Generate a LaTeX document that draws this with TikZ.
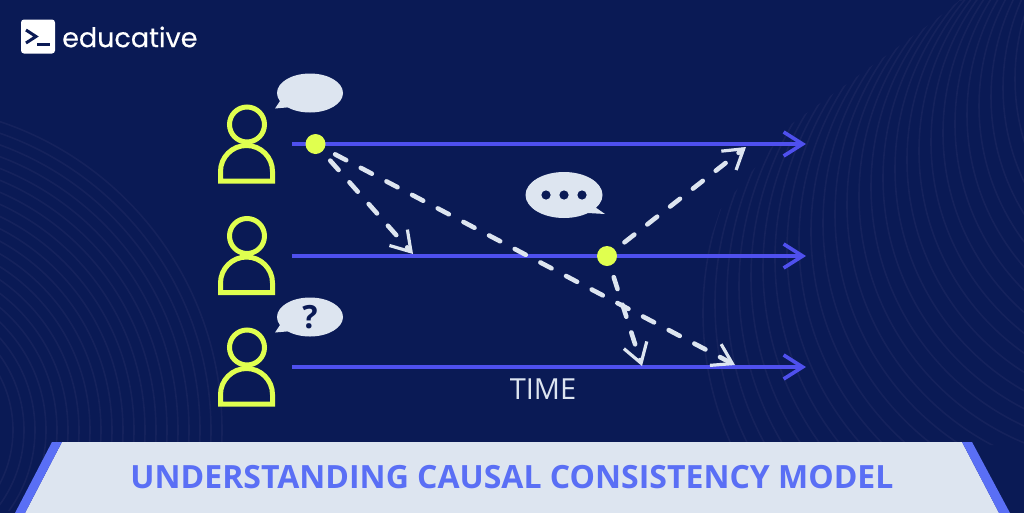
\documentclass[tikz,border=0pt]{standalone}
\usepackage{fontspec}
\setmainfont{Open Sans}
\newfontfamily\logofont[FakeBold=0.4]{Poppins}
\usetikzlibrary{arrows.meta, shapes.geometric}
\definecolor{navy}{HTML}{0A1A55}
\definecolor{ripple}{HTML}{15225C}
\definecolor{lineblue}{HTML}{4F50EE}
\definecolor{edgeblue}{HTML}{5A6FF5}
\definecolor{pale}{HTML}{DDE5F0}
\definecolor{lime}{HTML}{E0FF4F}
\begin{document}
\begin{tikzpicture}[
    x=1pt, y=-1pt,
    timeline/.style={draw=lineblue, line width=4.6pt, -{Straight Barb[length=19pt,width=24pt,line width=3.6pt]}},
    causal/.style={draw=pale, line width=4.6pt, line cap=round, dash pattern=on 12.5pt off 16.5pt, shorten <=12pt, -{Straight Barb[length=19pt,width=24pt,line width=3.2pt]}},
    event/.style={circle, fill=lime, inner sep=0pt, minimum size=20pt},
    bubble/.style={ellipse, fill=pale, inner sep=0pt, minimum width=66pt, minimum height=39pt},
    person/.style={draw=lime, line width=5pt},
  ]
  \useasboundingbox (0,0) rectangle (1024,512);
  % background
  \fill[navy] (-1,-1) rectangle (1025,513);
  \begin{scope}
    \clip (935,20) -- (790,125) -- (720,210) -- (690,300) -- (690,445) -- (1024,445) -- (1024,0) -- (960,0) -- cycle;
    \foreach \i in {0,...,26}
      \draw[ripple, line width=1.6pt] ({1022+8*\i},{313-9*\i}) circle ({319-4*\i});
  \end{scope}
  \begin{scope}
    \clip (0,110) rectangle (240,510);
    \foreach \i in {0,...,19}
      \draw[ripple, line width=1.6pt] (-103,430) circle ({325-11*\i});
  \end{scope}
  % logo
  \node[fill=white, rounded corners=3pt, minimum width=34pt, minimum height=34pt, inner sep=0pt] (logo) at (38,36.5) {};
  \draw[navy, line width=3pt] (26,30) -- (36,36.5) -- (26,43);
  \draw[navy, line width=3pt] (37,44) -- (50,44);
  \node[white, anchor=west, inner sep=0pt, font=\logofont\fontsize{27}{27}\selectfont] (brand) at (62,37) {educative};
  % users
  \foreach \y in {0,111.5,223} {
    \draw[person] (247,124.5+\y) circle (17.5);
    \draw[person] (220.5,181+\y) -- (220.5,171.5+\y) arc[start angle=180, end angle=0, x radius=26, y radius=-26] -- (272.5,181+\y) -- cycle;
  }
  % time lines
  \coordinate (startA) at (292,144);
  \coordinate (startB) at (292,256);
  \coordinate (startC) at (292,367);
  \coordinate (endA) at (806,144);
  \coordinate (endB) at (806,256);
  \coordinate (endC) at (806,367);
  \draw[timeline] (startA) -- (endA);
  \draw[timeline] (startB) -- (endB);
  \draw[timeline] (startC) -- (endC);
  % events
  \node[event] (evA) at (315.5,144) {};
  \node[event] (evB) at (607,256) {};
  \coordinate (hitB) at (413,254);
  \coordinate (hitC) at (735,365);
  \coordinate (hitD) at (642,366);
  \coordinate (hitA) at (746,147);
  \draw[causal] (evA) -- (hitB);
  \draw[causal] (evA) -- (hitC);
  \draw[causal] (evB) -- (hitD);
  \draw[causal] (evB) -- (hitA);
  % bubbles
  \node[bubble] (talkA) at (310,93) {};
  \fill[pale] (282,98) -- (275,108.5) -- (292,107) -- cycle;
  \node[bubble, minimum width=77pt, minimum height=46pt] (talkB) at (564,195) {};
  \fill[pale] (592,205) -- (605,214) -- (588,213) -- cycle;
  \foreach \x in {546,564,582}
    \fill[navy] (\x,195) circle (4.6);
  \node[bubble, text=navy, font=\bfseries\fontsize{32}{32}\selectfont] (talkC) at (310,317) {?};
  \fill[pale] (282,322) -- (275,332.5) -- (292,331) -- cycle;
  % label
  \node[pale, font=\fontsize{29}{29}\selectfont] (timeLabel) at (543,389) {TIME};
  % banner
  \fill[pale] (62,442) -- (962,442) -- (999,513) -- (25,513) -- cycle;
  \fill[edgeblue] (52,442) -- (62,442) -- (25,513) -- (15,513) -- cycle;
  \fill[edgeblue] (962,442) -- (972,442) -- (1010,513) -- (999,513) -- cycle;
  \node[edgeblue, font=\bfseries\fontsize{32}{32}\selectfont] (title) at (512,477) {UNDERSTANDING CAUSAL CONSISTENCY MODEL};
\end{tikzpicture}
\end{document}
